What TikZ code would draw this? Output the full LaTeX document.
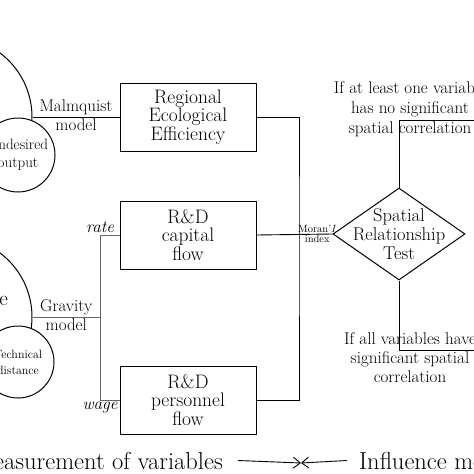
\documentclass[tikz,border=0pt]{standalone}
\usepackage{tikz}
\usetikzlibrary{arrows,arrows.meta,shapes,positioning}
\tikzstyle{block}=[rectangle,draw=black,line width=1pt,minimum width=136pt,
  			  minimum height=68pt,inner sep=0pt,align=center,
  			  font=\fontsize{19.5}{18.5}\selectfont]
\tikzstyle{bubble}=[circle,draw=black,line width=1pt,fill=white,inner sep=0pt,
  			  align=center]
\tikzstyle{test}=[diamond,draw=black,line width=1pt,minimum width=132pt,
  			  minimum height=92pt,inner sep=0pt]
\tikzstyle{note}=[align=center,inner sep=1.5pt,text=black,
  			  font=\fontsize{17}{20}\selectfont]
\tikzstyle{tiny}=[align=center,inner sep=1pt,font=\fontsize{10.5}{10}\selectfont]
\tikzstyle{line}=[black,line width=.9pt]
\tikzstyle{gline}=[black!60,line width=.9pt]
\tikzstyle{arrow}=[->,line width=.9pt]

\begin{document}
\begin{tikzpicture}[x=1pt,y=-1pt,>={Straight Barb[length=7pt,width=11pt]}]
  \useasboundingbox (0,0) rectangle (474,474);

	% inputs on the left
	\node[bubble,minimum size=160pt] (inA) at (-48,117) {};
	\node[bubble,minimum size=160pt] (inB) at (-48,317) {};
	\node[font=\fontsize{21}{21}\selectfont,anchor=base east,inner sep=0pt]
		(inBtxt) at (8,305) {e};
	\node[bubble,minimum size=74pt,font=\fontsize{15}{18}\selectfont]
		(undes) at (18,155) {Undesired\\output};
	\node[bubble,minimum size=72pt,font=\fontsize{12}{16}\selectfont]
		(techd) at (18,362) {Technical\\distance};

	% variables
	\node[block] (ree) at (188,117) {Regional\\Ecological\\Efficiency};
	\node[block] (cap) [below=49pt of ree] {R\&D\\capital\\flow};
	\node[block] (pers) [below=96pt of cap] {R\&D\\personnel\\flow};

	% spatial test
	\node[test] (test) at (399,234) {};
	\node[align=center,font=\fontsize{18.5}{19}\selectfont] (testtxt) at (test)
		{Spatial\\Relationship\\Test};
	\node[note] (nosig) at (410,109)
		{If at least one variable\\has no significant\\spatial correlation};
	\node[note,font=\fontsize{17}{19}\selectfont] (allsig) at (410,358)
		{If all variables have\\significant spatial\\correlation};

	\coordinate (split) at (100,317);
	\coordinate (bus) at (299,234);
	\coordinate (outA) at (480,120);
	\coordinate (outB) at (480,350);

  \path [line]
		(inA.east) edge node[note,above] {Malmquist}
		                node[note,below] {model} (ree.west);
  \path [gline]
		(inB.east) edge node[note,above] {Gravity}
		                node[note,below] {model} (split);
  \draw [gline] (cap.west) -| node[note,pos=.5,above] {\itshape rate} (split);
  \draw [gline] (split) |- node[note,pos=.5,below] {\itshape wage} (pers.west);
  \draw [line] (ree.east) -| (bus) |- (pers.east);
  \path [line]
		(cap.east) edge node[tiny,pos=.8,above] {Moran'\textit{I}}
		                node[tiny,pos=.8,below] {index} (test.west);
  \draw [line] (test.north) |- (outA);
  \draw [line] (test.south) |- (outB);

	% legend
	\coordinate (meet) at (301,463);
	\node[font=\fontsize{24.5}{24.5}\selectfont,anchor=base east,inner sep=0pt,
		inner xsep=15pt] (meas) at (238,469) {Measurement of variables};
	\node[font=\fontsize{24.5}{24.5}\selectfont,anchor=base west,inner sep=0pt,
		inner xsep=12pt] (infl) at (347,469) {Influence mechanism};
  \draw [arrow] (meas.east) -- (meet);
  \draw [arrow] (infl.west) -- (meet);
\end{tikzpicture}
\end{document}
